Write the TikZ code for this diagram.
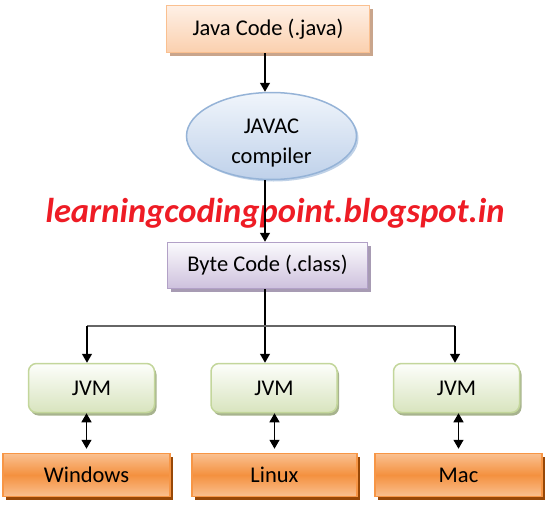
\documentclass[tikz,border=0pt]{standalone}
\usepackage{fontspec}
\setmainfont{Carlito}
\usetikzlibrary{shapes.geometric,shadows,arrows.meta}
\definecolor{peachline}{HTML}{FAC090}
\definecolor{peachtop}{HTML}{FEF0E6}
\definecolor{peachbot}{HTML}{FBD0AE}
\definecolor{peachshade}{HTML}{C9A58C}
\definecolor{blueline}{HTML}{95B3D7}
\definecolor{bluetop}{HTML}{F0F5FB}
\definecolor{bluebot}{HTML}{BFD1EA}
\definecolor{lilacline}{HTML}{B2A1C7}
\definecolor{lilactop}{HTML}{FBFAFD}
\definecolor{lilacbot}{HTML}{CDC1DD}
\definecolor{lilacshade}{HTML}{A79BB3}
\definecolor{greenline}{HTML}{C3D69B}
\definecolor{greentop}{HTML}{FDFEFB}
\definecolor{greenbot}{HTML}{D8E4BE}
\definecolor{greenshade}{HTML}{A7B38E}
\definecolor{osline}{HTML}{F79646}
\definecolor{osedge}{HTML}{FAC090}
\definecolor{osmid}{HTML}{F4913F}
\definecolor{osshade}{HTML}{984807}
\definecolor{wmred}{HTML}{EE1C25}
\tikzset{
  lbl/.style={font=\fontsize{22.5}{27}\selectfont, inner sep=0pt},
  javabox/.style={lbl, draw=peachline, line width=1.5pt, top color=peachtop, bottom color=peachbot,
    minimum width=203pt, minimum height=47pt,
    drop shadow={shadow xshift=3pt, shadow yshift=-3pt, fill=peachshade, opacity=1}},
  compilerblob/.style={ellipse, draw=blueline, line width=1.5pt, top color=bluetop, bottom color=bluebot,
    minimum width=170pt, minimum height=87pt, inner sep=0pt,
    drop shadow={shadow xshift=2pt, shadow yshift=-2pt, fill=blueline, opacity=.6}},
  bytebox/.style={lbl, draw=lilacline, line width=1.5pt, top color=lilactop, bottom color=lilacbot,
    minimum width=200pt, minimum height=46pt,
    drop shadow={shadow xshift=3pt, shadow yshift=-3pt, fill=lilacshade, opacity=1}},
  jvmbox/.style={lbl, draw=greenline, line width=1.5pt, rounded corners=8pt, top color=greentop, bottom color=greenbot,
    minimum width=126pt, minimum height=49pt,
    drop shadow={shadow xshift=2pt, shadow yshift=-3pt, fill=greenshade, opacity=1}},
  osbox/.style={lbl, draw=osline, line width=1.5pt, top color=osedge, bottom color=osedge, middle color=osmid,
    minimum height=43pt,
    drop shadow={shadow xshift=3pt, shadow yshift=-3pt, fill=osshade, opacity=1}},
  arr/.style={line width=1.3pt, -{Triangle[length=9pt,width=10pt]}},
  dblarr/.style={line width=1.3pt, {Triangle[length=9pt,width=10pt]}-{Triangle[length=9pt,width=10pt]}}
}
\begin{document}
\begin{tikzpicture}[x=1pt, y=-1pt]
  \useasboundingbox (0,0) rectangle (548,506);
  % compile path
  \node[javabox] (src) at (268,29) {Java Code (.java)};
  \node[compilerblob] (javac) at (271.5,136) {};
  \node[lbl, align=center, font=\fontsize{22.5}{30}\selectfont] (javactxt) at ([yshift=-7pt]javac.center) {JAVAC\\compiler};
  \node[bytebox] (byte) at (267.5,265.5) {Byte Code (.class)};
  \foreach \n/\x/\os/\ox/\w in {jvmA/91.5/win/86.5/167, jvmB/274/lin/274.5/165, jvmC/456.5/mac/458.5/167}{
    \node[jvmbox] (\n) at (\x,388) {JVM};
    \node[osbox, minimum width=\w pt] (\os) at (\ox,475) {};
  }
  \node[lbl] at (win) {Windows};
  \node[lbl] at (lin) {Linux};
  \node[lbl] at (mac) {Mac};
  \coordinate (fork) at (265,326);
  \node[font=\fontsize{34.5}{40}\selectfont\bfseries\itshape, text=wmred, anchor=base, inner sep=0pt]
    (blog) at (275,222) {learningcodingpoint.blogspot.in};
  \draw[arr] (src.south -| fork) -- (javac.north -| fork);
  \draw[arr] (javac.south -| fork) -- (byte.north -| fork);
  \draw[line width=1.3pt] (byte.south -| fork) -- (fork);
  \draw[arr] (fork) -- (jvmB.north -| fork);
  \draw[line width=1.3pt, draw=black!60] (fork) -- (fork -| 87,0) (fork) -- (fork -| 455,0);
  \draw[arr] (fork -| 87,0) -- (jvmA.north -| 87,0);
  \draw[arr] (fork -| 455,0) -- (jvmC.north -| 455,0);
  \draw[dblarr, shorten <=4pt] (win.north) -- (win.north |- jvmA.south);
  \draw[dblarr, shorten <=4pt] (lin.north) -- (lin.north |- jvmB.south);
  \draw[dblarr, shorten <=4pt] (mac.north) -- (mac.north |- jvmC.south);
\end{tikzpicture}
\end{document}
